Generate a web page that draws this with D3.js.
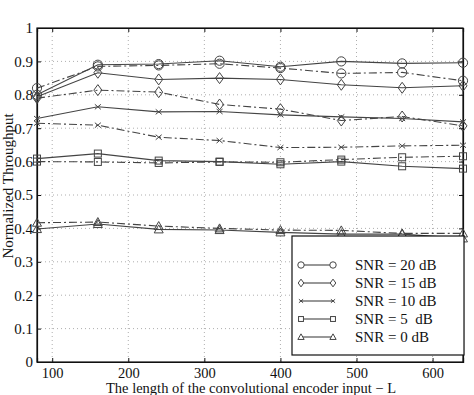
<!DOCTYPE html>
<html>
<head>
<meta charset="UTF-8">
<style>
  body { margin: 0; background: #fff; }
  svg text { font-family: "Liberation Serif", "DejaVu Serif", serif; fill: #111; }
</style>
</head>
<body>
<div id="chart"></div>
<script src="https://d3js.org/d3.v7.min.js"></script>
<script>
// x values: length of the convolutional encoder input
const lengths = [80, 160, 240, 320, 400, 480, 560, 640];
const xTicks = [100, 200, 300, 400, 500, 600];
const yTicks = [0, 0.1, 0.2, 0.3, 0.4, 0.5, 0.6, 0.7, 0.8, 0.9, 1];

// solid curves
const snr20 = [0.800, 0.890, 0.892, 0.902, 0.884, 0.900, 0.894, 0.896];
const snr15 = [0.794, 0.866, 0.846, 0.850, 0.846, 0.830, 0.821, 0.827];
const snr10 = [0.729, 0.764, 0.749, 0.750, 0.740, 0.734, 0.729, 0.719];
const snr5  = [0.609, 0.624, 0.603, 0.600, 0.592, 0.600, 0.586, 0.579];
const snr0  = [0.398, 0.413, 0.397, 0.395, 0.388, 0.383, 0.383, 0.370];

// dash-dot curves
const snr20b = [0.820, 0.885, 0.888, 0.893, 0.880, 0.864, 0.867, 0.842];
const snr15b = [0.790, 0.814, 0.808, 0.771, 0.757, 0.723, 0.735, 0.707];
const snr10b = [0.715, 0.709, 0.673, 0.663, 0.642, 0.643, 0.647, 0.649];
const snr5b  = [0.600, 0.599, 0.596, 0.599, 0.598, 0.606, 0.613, 0.616];
const snr0b  = [0.417, 0.419, 0.407, 0.400, 0.395, 0.394, 0.385, 0.385];

const legendLabels = ["SNR = 20 dB", "SNR = 15 dB", "SNR = 10 dB", "SNR = 5  dB", "SNR = 0 dB"];
const markers = ["circle", "diamond", "cross", "square", "triangle"];

const W = 474, H = 395;
const margin = { top: 28, right: 11, bottom: 33, left: 37 };
const width = W - margin.left - margin.right;
const height = H - margin.top - margin.bottom;

const svg = d3.select("#chart").append("svg")
  .attr("width", W).attr("height", H);
const g = svg.append("g").attr("transform", `translate(${margin.left},${margin.top})`);

const x = d3.scaleLinear().domain([80, 640]).range([0, width]);
const y = d3.scaleLinear().domain([0, 1]).range([height, 0]);

// grid
g.append("g").selectAll("line").data(xTicks).enter().append("line")
  .attr("x1", d => x(d)).attr("x2", d => x(d))
  .attr("y1", 0).attr("y2", height)
  .attr("stroke", "#999").attr("stroke-width", 0.8).attr("stroke-dasharray", "1,3");
g.append("g").selectAll("line").data(yTicks.slice(1, -1)).enter().append("line")
  .attr("y1", d => y(d)).attr("y2", d => y(d))
  .attr("x1", 0).attr("x2", width)
  .attr("stroke", "#999").attr("stroke-width", 0.8).attr("stroke-dasharray", "1,3");

// axes
const fmt = d => d === 0 ? "0" : d === 1 ? "1" : d3.format(".1f")(d);
const axB = g.append("g").attr("transform", `translate(0,${height})`)
  .call(d3.axisBottom(x).tickValues(xTicks).tickSize(-4).tickPadding(6));
g.append("g")
  .call(d3.axisLeft(y).tickValues(yTicks).tickFormat(fmt).tickSize(-4).tickPadding(4));
g.append("g").attr("transform", `translate(${width},0)`)
  .call(d3.axisRight(y).tickValues(yTicks).tickSize(-4).tickFormat(""));
g.append("g")
  .call(d3.axisTop(x).tickValues(xTicks).tickSize(-4).tickFormat(""));
g.selectAll(".domain").attr("stroke", "#111").attr("stroke-width", 1.2);
g.selectAll(".tick line").attr("stroke", "#111");
g.selectAll(".tick text").style("font-size", "15px").attr("fill", "#111");
axB.selectAll(".tick text").style("font-size", "14.5px").attr("dy", "0.66em");
g.append("rect").attr("width", width).attr("height", height)
  .attr("fill", "none").attr("stroke", "#111").attr("stroke-width", 1.2);

// marker drawing
function drawMarker(sel, type, s) {
  s = s || 1;
  if (type === "circle") {
    sel.append("circle").attr("r", 4.6 * s);
  } else if (type === "diamond") {
    sel.append("path").attr("d", `M0,${-5.5 * s}L${4 * s},0L0,${5.5 * s}L${-4 * s},0Z`);
  } else if (type === "cross") {
    sel.append("path").attr("d", `M${-3 * s},${-2.5 * s}L${3 * s},${2.5 * s}M${-3 * s},${2.5 * s}L${3 * s},${-2.5 * s}`);
  } else if (type === "square") {
    sel.append("rect").attr("x", -3.5 * s).attr("y", -3.5 * s).attr("width", 7 * s).attr("height", 7 * s);
  } else {
    sel.append("path").attr("d", `M0,${-4.5 * s}L${4.5 * s},${3.5 * s}L${-4.5 * s},${3.5 * s}Z`);
  }
}

const lineGen = d3.line().x((d, i) => x(lengths[i])).y(d => y(d));
const solid = [snr20, snr15, snr10, snr5, snr0];
const dashed = [snr20b, snr15b, snr10b, snr5b, snr0b];
const stroke = "#444";

function drawSeries(vals, type, dash) {
  g.append("path").datum(vals)
    .attr("d", lineGen).attr("fill", "none")
    .attr("stroke", stroke).attr("stroke-width", 1.1)
    .attr("stroke-dasharray", dash);
  vals.forEach((v, i) => {
    const m = g.append("g")
      .attr("transform", `translate(${x(lengths[i])},${y(v)})`)
      .attr("fill", "none").attr("stroke", stroke).attr("stroke-width", 1);
    drawMarker(m, type);
  });
}
dashed.forEach((s, k) => drawSeries(s, markers[k], "8,3,2,3"));
solid.forEach((s, k) => drawSeries(s, markers[k], null));

// legend
const lg = svg.append("g").attr("transform", "translate(292,236)");
lg.append("rect").attr("width", 172).attr("height", 119)
  .attr("fill", "#fff").attr("stroke", "#111").attr("stroke-width", 1.2);
legendLabels.forEach((lab, k) => {
  const yy = 29 + k * 18;
  lg.append("line").attr("x1", 9).attr("x2", 41).attr("y1", yy).attr("y2", yy)
    .attr("stroke", stroke).attr("stroke-width", 1.1);
  [9, 41].forEach(px => {
    const m = lg.append("g").attr("transform", `translate(${px},${yy})`)
      .attr("fill", "#fff").attr("stroke", stroke).attr("stroke-width", 1);
    drawMarker(m, markers[k], 0.7);
  });
  lg.append("text").attr("x", 63).attr("y", yy + 5)
    .style("font-size", "15px").style("white-space", "pre").text(lab);
});

// axis titles
svg.append("text").attr("x", margin.left + width / 2 + 1).attr("y", 393)
  .attr("text-anchor", "middle").style("font-size", "14.5px")
  .text("The length of the convolutional encoder input \u2212 L");
svg.append("text").attr("transform", "translate(13,186) rotate(-90)")
  .attr("text-anchor", "middle").style("font-size", "15px")
  .text("Normalized Throughput");
</script>
</body>
</html>
